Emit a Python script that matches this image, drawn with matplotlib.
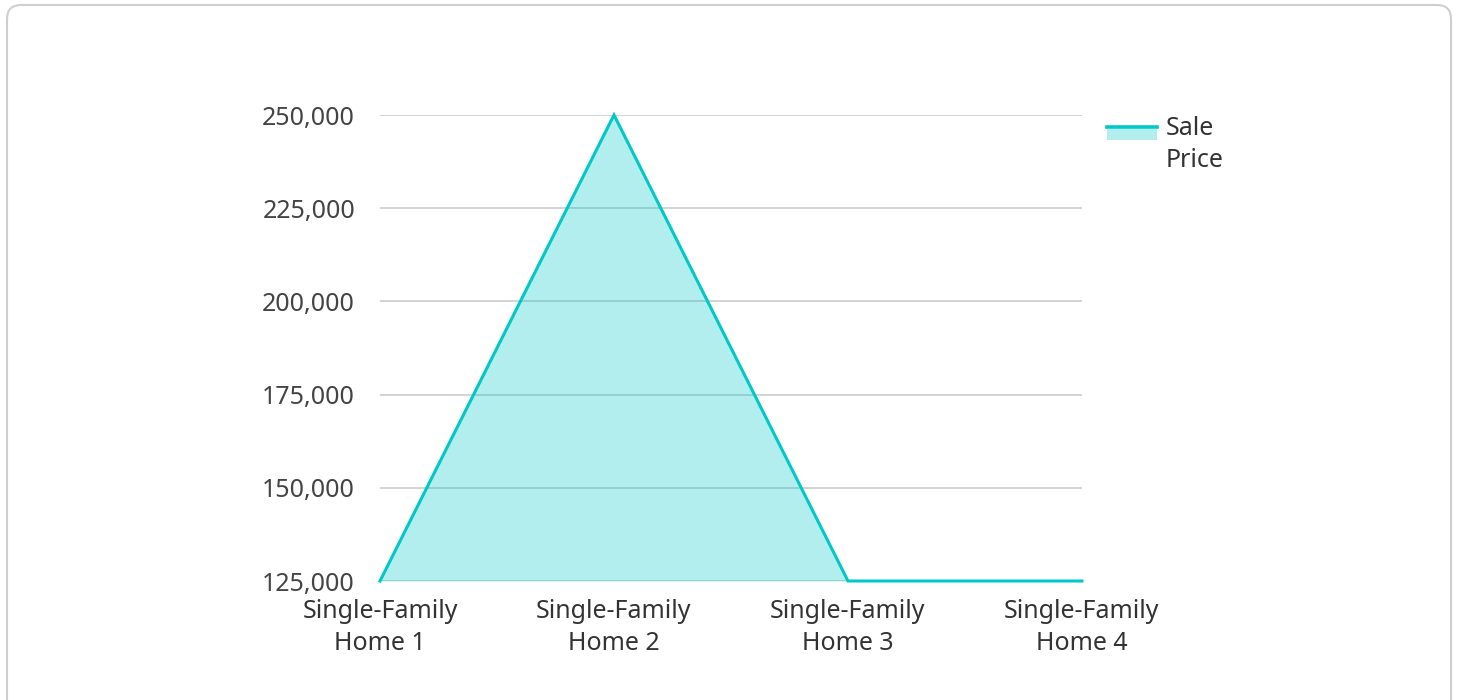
import matplotlib
matplotlib.use("Agg")
import matplotlib.pyplot as plt
from matplotlib.patches import FancyBboxPatch, Rectangle
from matplotlib.lines import Line2D
from matplotlib.ticker import FuncFormatter

categories = ["Single-Family\nHome 1", "Single-Family\nHome 2", "Single-Family\nHome 3", "Single-Family\nHome 4"]
sale_price = [125000, 250000, 125000, 125000]
y_ticks = [125000, 150000, 175000, 200000, 225000, 250000]
series_name = "Sale\nPrice"

plt.rcParams['font.family'] = ['Noto Sans', 'DejaVu Sans']

LINE = (0/255, 200/255, 200/255)
TEXT = '#444444'
FS = 18

fig = plt.figure(figsize=(14.58, 7.0), dpi=100)
fig.patch.set_facecolor('white')

# background card in pixel coordinates
bg = fig.add_axes([0, 0, 1, 1])
bg.set_xlim(0, 1458)
bg.set_ylim(700, 0)
bg.axis('off')
card = FancyBboxPatch((7, 5), 1444, 720,
                      boxstyle="round,pad=0,rounding_size=14",
                      facecolor='white', edgecolor='#cfcfcf', linewidth=1.5)
bg.add_patch(card)
# legend handle
bg.add_patch(Rectangle((1107, 128.5), 50, 11.5, facecolor=LINE, alpha=0.3, linewidth=0))
bg.add_line(Line2D([1107, 1157], [127, 127], color=LINE, linewidth=2.6))
bg.text(1166, 144.5, series_name, fontsize=FS, color='#333333',
        va='center', ha='left', linespacing=1.37)

ax = fig.add_axes([380/1458, 1 - 581/700, 702/1458, 466/700])
ax.set_facecolor('none')
x = list(range(len(categories)))
ax.fill_between(x, sale_price, y_ticks[0], color=LINE, alpha=0.3, linewidth=0, zorder=3)
ax.plot(x, sale_price, color=LINE, linewidth=2.2, zorder=4, solid_joinstyle='miter', clip_on=False)

ax.set_xlim(0, len(categories) - 1)
ax.set_ylim(y_ticks[0], y_ticks[-1])
ax.set_yticks(y_ticks)
ax.yaxis.set_major_formatter(FuncFormatter(lambda v, p: f"{int(v):,}"))
ax.set_xticks(x)
ax.set_xticklabels(categories, linespacing=1.37)
ax.grid(axis='y', color='#c8c8c8', linewidth=1.1, zorder=1)
ax.grid(axis='x', visible=False)
for s in ax.spines.values():
    s.set_visible(False)
ax.tick_params(axis='y', length=0, pad=18, labelsize=FS, labelcolor=TEXT)
ax.tick_params(axis='x', length=0, pad=13, labelsize=FS, labelcolor='#333333')

fig.savefig("out.png", dpi=100)
